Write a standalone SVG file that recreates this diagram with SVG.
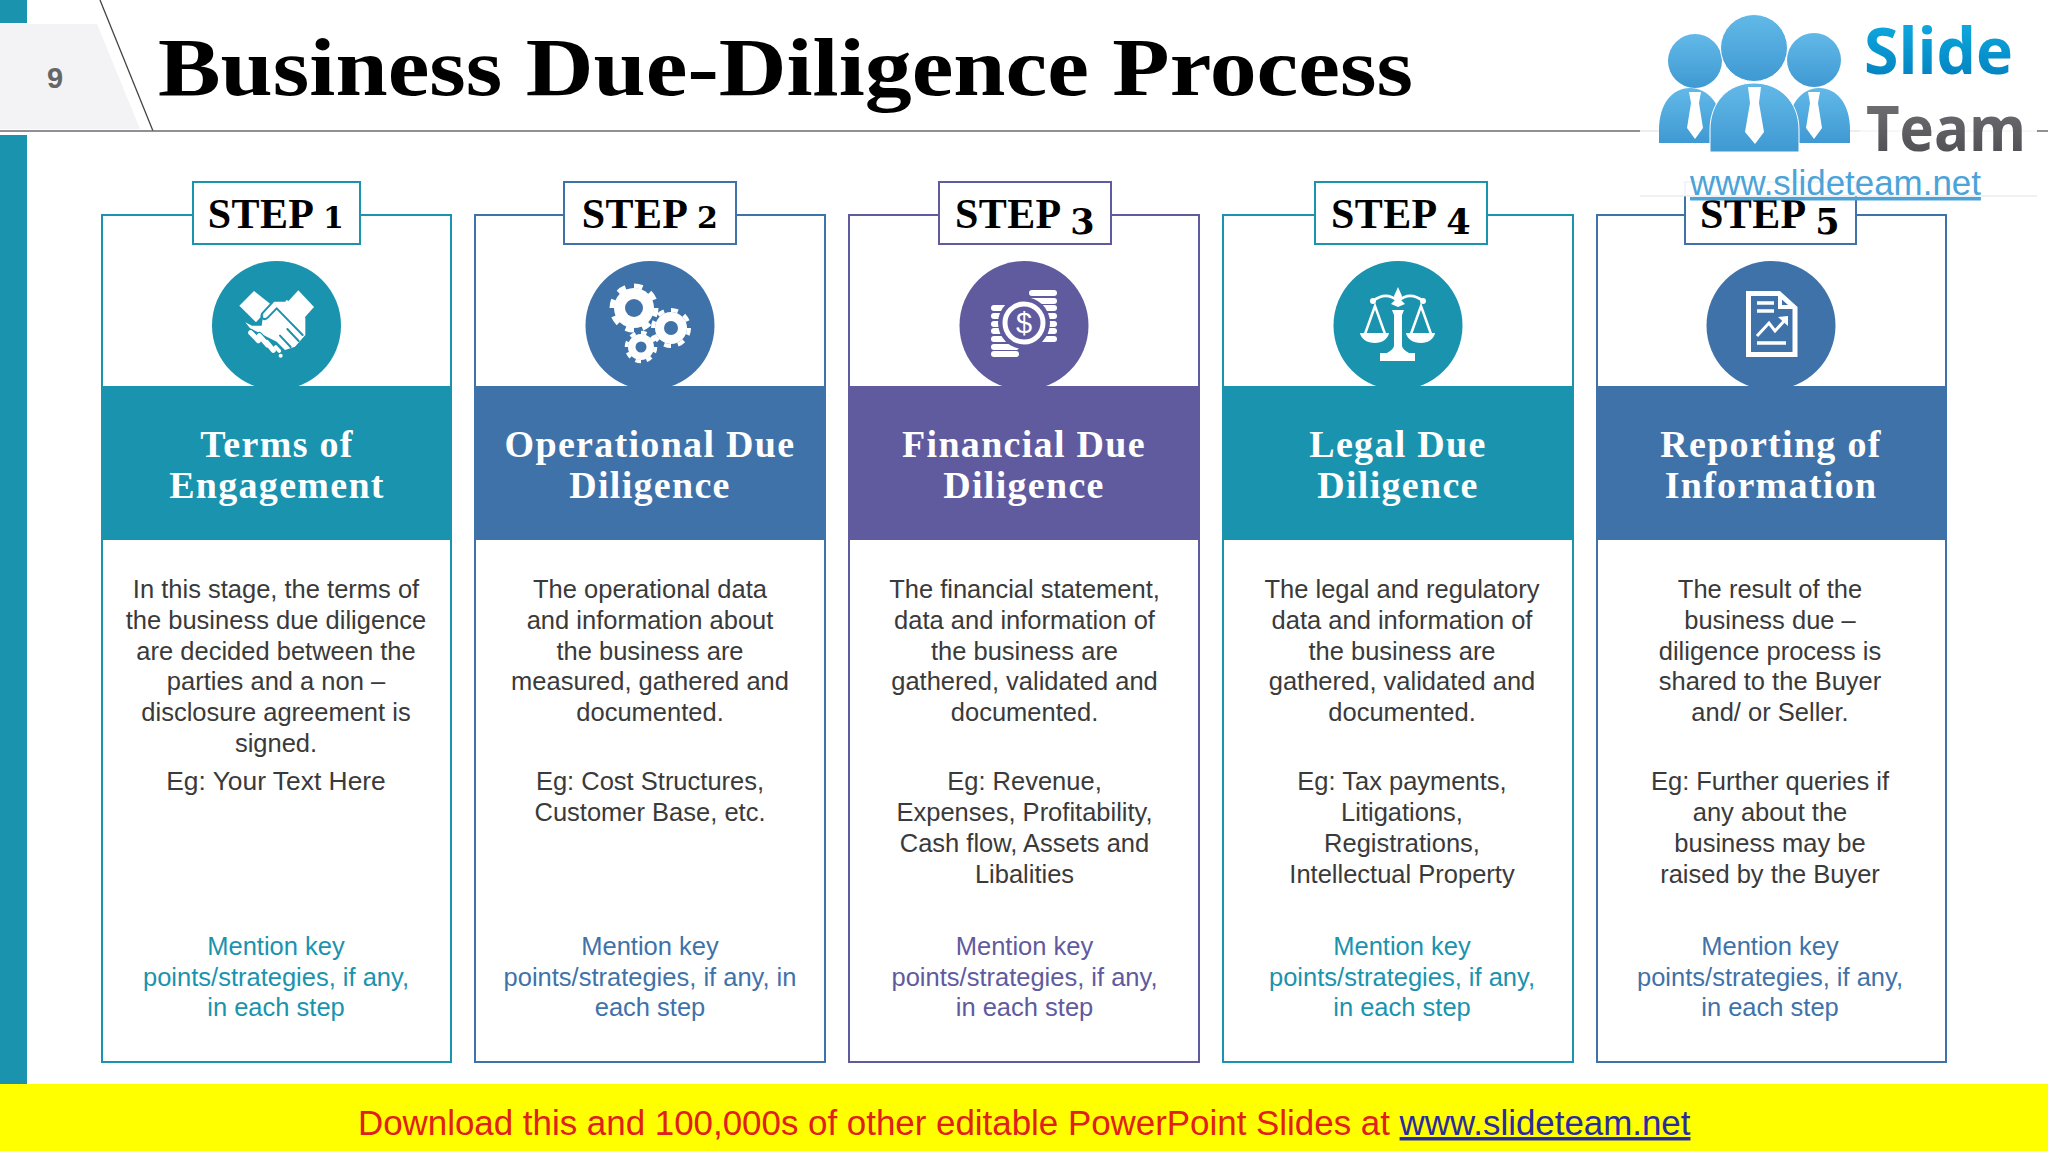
<svg xmlns="http://www.w3.org/2000/svg" width="2048" height="1152" viewBox="0 0 2048 1152">
<style>
.bg{fill:#fff}
.serif{font-family:"Liberation Serif","Times New Roman",serif;font-weight:700}
.sans{font-family:"Liberation Sans",Arial,sans-serif}
.step{font-size:42px;fill:#000;text-anchor:middle;letter-spacing:.4px}
.dig{font-family:"DejaVu Serif",serif;font-size:30px}
.dig2{font-family:"DejaVu Serif",serif;font-size:35px}
.head{font-size:38px;fill:#fff;text-anchor:middle;letter-spacing:1.3px}
.body{font-size:25.500px;fill:#3a3a3a;text-anchor:middle}
.note{font-size:25.500px;text-anchor:middle}
.frame{fill:#fff;stroke-width:2}
.ic{fill:#fff}
.t{--c:#1a93ae}.b{--c:#3f72a9}.p{--c:#605a9e}
.t .frame,.b .frame,.p .frame{stroke:var(--c)}
.t .fillc,.b .fillc,.p .fillc{fill:var(--c)}
.t .note,.b .note,.p .note{fill:var(--c)}
.cut{stroke:var(--c);fill:none;stroke-linecap:round;stroke-linejoin:round}
.wl{stroke:#fff;fill:none;stroke-linecap:round}
.tie{fill:#fff}
</style>
<defs>
<linearGradient id="person" x1="0" y1="0" x2="0" y2="1"><stop offset="0" stop-color="#62b9e8"/><stop offset="1" stop-color="#3f99d2"/></linearGradient>
<linearGradient id="slide" x1="0" y1="0" x2="0" y2="1"><stop offset="0" stop-color="#12b5e8"/><stop offset="1" stop-color="#0078b8"/></linearGradient>
<linearGradient id="team" x1="0" y1="0" x2="0" y2="1"><stop offset="0" stop-color="#7a7a7e"/><stop offset="1" stop-color="#48484c"/></linearGradient>
</defs>
<rect class="bg" width="2048" height="1152"/>

<g id="page-frame">
<rect x="0" y="0" width="27" height="23" fill="#1a93ae"/>
<rect x="0" y="135" width="27" height="949" fill="#1a93ae"/>
<polygon points="0,24 97,24 140,129 0,129" fill="#f3f3f5"/>
<path d="M100 0L153 131" stroke="#444" stroke-width="1.300" fill="none"/>
<path d="M0 131H2048" stroke="#6b6b70" stroke-width="1.600" fill="none"/>
<text x="55" y="88" class="sans" font-size="29" font-weight="700" fill="#666" text-anchor="middle">9</text>
</g>
<text id="title" x="158" y="95" class="serif" font-size="82" fill="#000" textLength="1255" lengthAdjust="spacingAndGlyphs">Business Due-Diligence Process</text>

<g id="step1" class="t">
<rect class="frame" x="102" y="215" width="349" height="847"/>
<rect class="frame" x="193" y="182" width="167" height="62"/>
<text class="serif step" x="276" y="228">STEP <tspan class="dig">1</tspan></text>
<circle class="fillc" cx="276.500" cy="325.500" r="64.500"/>
<rect class="fillc" x="102" y="386" width="349" height="154"/>
<g id="icon-handshake" transform="translate(230 285) scale(.3333)">
<polygon class="ic" points="28,62 72,18 125,60 78,112"/>
<polygon class="ic" points="172,52 205,16 252,66 222,100"/>
<path class="ic" d="M46 112L66 122H95L100 88L130 46L172 46L226 98L226 150L195 185L165 195L140 170L100 150L60 130Z"/>
<path class="cut" stroke-width="6" d="M165 47L132 47L96 86C90 100 104 108 114 97L140 70L218 150M172 132L206 168M150 152L182 186"/>
<g stroke-linecap="round" fill="none"><path stroke="var(--c)" stroke-width="22" d="M62 143L85 167M88 152L112 180M110 172L130 196"/></g>
<g stroke-linecap="round" fill="none"><path stroke="#fff" stroke-width="15" d="M62 143L85 167M88 152L112 180M110 172L130 196"/></g>
<path class="wl" stroke-width="11" d="M137 186L148 198"/>
<circle class="ic" cx="152" cy="212" r="6"/>
</g>
<text class="serif head"><tspan x="277" y="457">Terms of</tspan><tspan x="277" y="498">Engagement</tspan></text>
<text class="sans body"><tspan x="276" y="598">In this stage, the terms of</tspan><tspan x="276" y="629">the business due diligence</tspan><tspan x="276" y="660">are decided between the</tspan><tspan x="276" y="690">parties and a non –</tspan><tspan x="276" y="721">disclosure agreement is</tspan><tspan x="276" y="752">signed.</tspan><tspan x="276" y="790" font-size="26.400">Eg: Your Text Here</tspan></text>
<text class="sans note"><tspan x="276" y="955">Mention key</tspan><tspan x="276" y="986">points/strategies, if any,</tspan><tspan x="276" y="1016">in each step</tspan></text>
</g>

<g id="step2" class="b">
<rect class="frame" x="475" y="215" width="350" height="847"/>
<rect class="frame" x="564" y="182" width="172" height="62"/>
<text class="serif step" x="650" y="228">STEP <tspan class="dig">2</tspan></text>
<circle class="fillc" cx="650" cy="325.500" r="64.500"/>
<rect class="fillc" x="475" y="386" width="350" height="154"/>
<g id="icon-gears">
<circle class="ic" cx="634" cy="308" r="20"/><circle class="wl" style="stroke-linecap:butt" cx="634" cy="308" r="22" stroke-width="5" pathLength="16" stroke-dasharray="1 1"/><circle class="fillc" cx="634" cy="308" r="9"/>
<circle class="ic" cx="671" cy="328" r="16"/><circle class="wl" style="stroke-linecap:butt" cx="671" cy="328" r="18" stroke-width="4" pathLength="16" stroke-dasharray="1 1"/><circle class="fillc" cx="671" cy="328" r="7"/>
<circle class="ic" cx="641" cy="347" r="13"/><circle class="wl" style="stroke-linecap:butt" cx="641" cy="347" r="14.500" stroke-width="3.500" pathLength="16" stroke-dasharray="1 1"/><circle class="fillc" cx="641" cy="347" r="5.500"/>
</g>
<text class="serif head"><tspan x="650" y="457">Operational Due</tspan><tspan x="650" y="498">Diligence</tspan></text>
<text class="sans body"><tspan x="650" y="598">The operational data</tspan><tspan x="650" y="629">and information about</tspan><tspan x="650" y="660">the business are</tspan><tspan x="650" y="690">measured, gathered and</tspan><tspan x="650" y="721">documented.</tspan><tspan x="650" y="790">Eg: Cost Structures,</tspan><tspan x="650" y="821">Customer Base, etc.</tspan></text>
<text class="sans note"><tspan x="650" y="955">Mention key</tspan><tspan x="650" y="986">points/strategies, if any, in</tspan><tspan x="650" y="1016">each step</tspan></text>
</g>

<g id="step3" class="p">
<rect class="frame" x="849" y="215" width="350" height="847"/>
<rect class="frame" x="939" y="182" width="172" height="62"/>
<text class="serif step" x="1025" y="228">STEP <tspan class="dig2" dy="6">3</tspan></text>
<circle class="fillc" cx="1024" cy="325.500" r="64.500"/>
<rect class="fillc" x="849" y="386" width="350" height="154"/>
<g id="icon-coins">
<g class="ic"><rect x="1029" y="290" width="28" height="6" rx="3"/><rect x="1029" y="298" width="28" height="6" rx="3"/><rect x="1029" y="305" width="28" height="6" rx="3"/><rect x="1029" y="313" width="28" height="6" rx="3"/><rect x="1029" y="321" width="28" height="6" rx="3"/><rect x="1029" y="328" width="28" height="6" rx="3"/><rect x="1029" y="336" width="28" height="6" rx="3"/>
<rect x="991" y="305" width="28" height="6" rx="3"/><rect x="991" y="313" width="28" height="6" rx="3"/><rect x="991" y="321" width="28" height="6" rx="3"/><rect x="991" y="328" width="28" height="6" rx="3"/><rect x="991" y="336" width="28" height="6" rx="3"/><rect x="991" y="344" width="28" height="6" rx="3"/><rect x="991" y="351" width="28" height="6" rx="3"/></g>
<circle class="fillc" cx="1024" cy="323" r="26"/>
<circle cx="1024" cy="323" r="19" fill="none" stroke="#fff" stroke-width="5"/>
<text x="1024" y="333" class="sans" font-size="29" fill="#fff" text-anchor="middle">$</text>
</g>
<text class="serif head"><tspan x="1024" y="457">Financial Due</tspan><tspan x="1024" y="498">Diligence</tspan></text>
<text class="sans body"><tspan x="1024.500" y="598">The financial statement,</tspan><tspan x="1024.500" y="629">data and information of</tspan><tspan x="1024.500" y="660">the business are</tspan><tspan x="1024.500" y="690">gathered, validated and</tspan><tspan x="1024.500" y="721">documented.</tspan><tspan x="1024.500" y="790">Eg: Revenue,</tspan><tspan x="1024.500" y="821">Expenses, Profitability,</tspan><tspan x="1024.500" y="852">Cash flow, Assets and</tspan><tspan x="1024.500" y="883">Libalities</tspan></text>
<text class="sans note"><tspan x="1024.500" y="955">Mention key</tspan><tspan x="1024.500" y="986">points/strategies, if any,</tspan><tspan x="1024.500" y="1016">in each step</tspan></text>
</g>

<g id="step4" class="t">
<rect class="frame" x="1223" y="215" width="350" height="847"/>
<rect class="frame" x="1315" y="182" width="172" height="62"/>
<text class="serif step" x="1401" y="228">STEP <tspan class="dig2" dy="6">4</tspan></text>
<circle class="fillc" cx="1398" cy="325.500" r="64.500"/>
<rect class="fillc" x="1223" y="386" width="350" height="154"/>
<g id="icon-scales">
<path class="ic" d="M1398 287L1402 296L1401 300L1405 304L1398 307L1391 304L1395 300L1394 296Z"/>
<path class="wl" stroke-width="2.800" d="M1373 301C1383 293 1391 295 1398 301C1405 295 1413 293 1423 301"/>
<circle class="ic" cx="1373" cy="301" r="3"/><circle class="ic" cx="1423" cy="301" r="3"/>
<path class="ic" d="M1392 310H1404L1402 315V345C1402 349 1406 351 1409 353H1415V361H1380V353H1387C1390 351 1394 349 1394 345V315Z"/>
<path class="wl" stroke-width="2.500" d="M1365 334L1375 306L1385 334M1411 334L1421 306L1431 334"/>
<path class="ic" d="M1360 333H1389C1388 339 1382 343 1375 343C1367 343 1361 339 1360 333Z"/>
<path class="ic" d="M1406 333H1435C1434 339 1428 343 1421 343C1413 343 1407 339 1406 333Z"/>
</g>
<text class="serif head"><tspan x="1398" y="457">Legal Due</tspan><tspan x="1398" y="498">Diligence</tspan></text>
<text class="sans body"><tspan x="1402" y="598">The legal and regulatory</tspan><tspan x="1402" y="629">data and information of</tspan><tspan x="1402" y="660">the business are</tspan><tspan x="1402" y="690">gathered, validated and</tspan><tspan x="1402" y="721">documented.</tspan><tspan x="1402" y="790">Eg: Tax payments,</tspan><tspan x="1402" y="821">Litigations,</tspan><tspan x="1402" y="852">Registrations,</tspan><tspan x="1402" y="883">Intellectual Property</tspan></text>
<text class="sans note"><tspan x="1402" y="955">Mention key</tspan><tspan x="1402" y="986">points/strategies, if any,</tspan><tspan x="1402" y="1016">in each step</tspan></text>
</g>

<g id="step5" class="b">
<rect class="frame" x="1597" y="215" width="349" height="847"/>
<rect class="frame" x="1685" y="182" width="171" height="62"/>
<text class="serif step" x="1770" y="228">STEP <tspan class="dig2" dy="6">5</tspan></text>
<circle class="fillc" cx="1771" cy="325.500" r="64.500"/>
<rect class="fillc" x="1597" y="386" width="349" height="154"/>
<g id="icon-report">
<path stroke="#fff" fill="none" stroke-width="5" d="M1748.500 293.500H1779L1795 308V354.500H1748.500Z"/>
<path class="ic" d="M1778 293H1782V305H1795V309H1778Z"/>
<path stroke="#fff" fill="none" stroke-width="3.500" d="M1757 303H1774M1757 311H1774M1757 343H1786"/>
<path stroke="#fff" fill="none" stroke-width="3" d="M1757 336L1769 323L1775 331L1785 320"/>
<path class="ic" d="M1778 317L1788 316L1788 326Z"/>
</g>
<text class="serif head"><tspan x="1771" y="457">Reporting of</tspan><tspan x="1771" y="498">Information</tspan></text>
<text class="sans body"><tspan x="1770" y="598">The result of the</tspan><tspan x="1770" y="629">business due –</tspan><tspan x="1770" y="660">diligence process is</tspan><tspan x="1770" y="690">shared to the Buyer</tspan><tspan x="1770" y="721">and/ or Seller.</tspan><tspan x="1770" y="790">Eg: Further queries if</tspan><tspan x="1770" y="821">any about the</tspan><tspan x="1770" y="852">business may be</tspan><tspan x="1770" y="883">raised by the Buyer</tspan></text>
<text class="sans note"><tspan x="1770" y="955">Mention key</tspan><tspan x="1770" y="986">points/strategies, if any,</tspan><tspan x="1770" y="1016">in each step</tspan></text>
</g>

<g id="logo">
<rect x="1640" y="0" width="397" height="196" fill="#fff" fill-opacity=".93"/>
<path d="M1640 131H1860M1640 196H2037" stroke="#e4e4e6" stroke-width="1.200" fill="none"/>
<g fill="url(#person)">
<circle cx="1695" cy="61" r="27"/><circle cx="1814" cy="60" r="27"/>
<path d="M1659 143V130C1659 104 1672 88 1690 88C1708 88 1722 104 1722 130V143Z"/>
<path d="M1788 143V130C1788 104 1802 88 1819 88C1837 88 1850 104 1850 130V143Z"/>
</g>
<circle cx="1754" cy="48" r="33.500" fill="url(#person)" stroke="#fff" stroke-width="1"/>
<path d="M1710 152V130C1710 102 1728 83 1754 83C1780 83 1799 102 1799 130V152Z" fill="url(#person)" stroke="#fff" stroke-width="1"/>
<g class="tie">
<polygon points="1689,92 1701,92 1699,103 1703,128 1695,139 1687,128 1691,103"/>
<polygon points="1748,87 1761,87 1759,103 1764,132 1755,144 1745,132 1750,103"/>
<polygon points="1808,92 1820,92 1818,103 1822,128 1814,139 1806,128 1810,103"/>
</g>
<text x="1864" y="74" font-family="'Open Sans','Noto Sans',sans-serif" font-weight="700" font-size="64" fill="url(#slide)" textLength="149" lengthAdjust="spacingAndGlyphs">Slide</text>
<text x="1866" y="151" font-family="'Open Sans','Noto Sans',sans-serif" font-weight="700" font-size="63" fill="url(#team)" textLength="160" lengthAdjust="spacingAndGlyphs">Team</text>
<text x="1690" y="195" class="sans" font-size="34.900" fill="#4ba3d8" text-decoration="underline">www.slideteam.net</text>
</g>

<g id="footer">
<rect x="0" y="1084" width="2048" height="67" fill="#ffff00"/>
<text x="358" y="1135" class="sans" font-size="34.900" fill="#e0201c">Download this and 100,000s of other editable PowerPoint Slides at <tspan fill="#2b2ba0" text-decoration="underline">www.slideteam.net</tspan></text>
</g>
</svg>
